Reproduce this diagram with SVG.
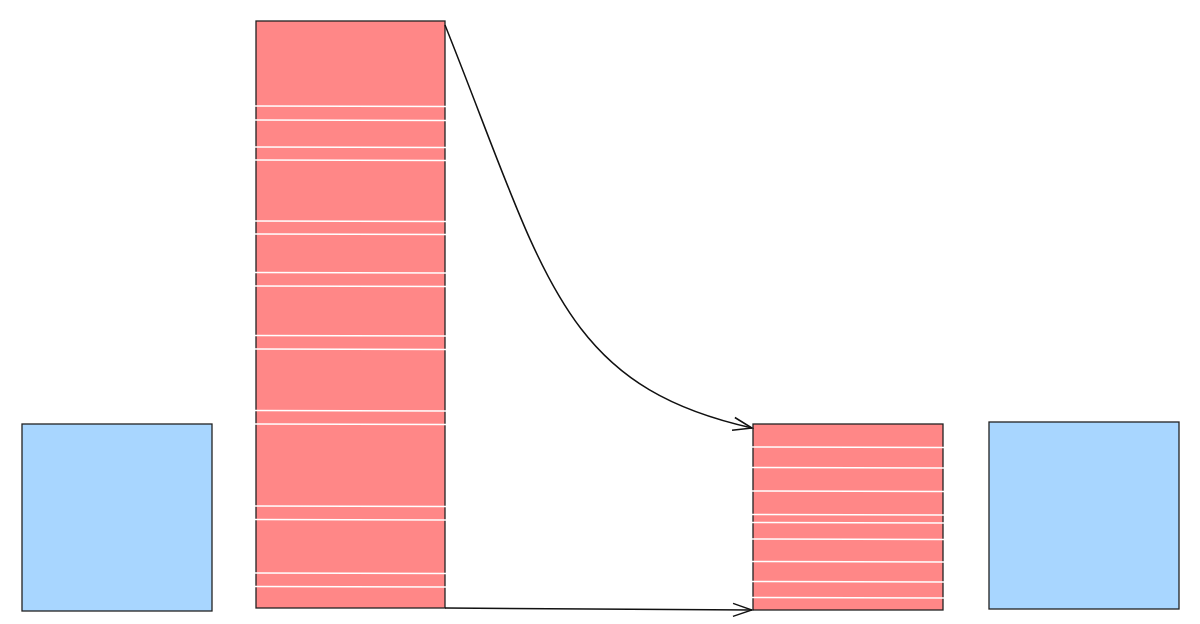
<svg xmlns="http://www.w3.org/2000/svg" width="1200" height="624" viewBox="0 0 1200 624">
<style>
.blue{fill:#a8d6ff;stroke:#222;stroke-width:1.3}
.red{fill:#ff8787;stroke:#222;stroke-width:1.3}
.sep{stroke:#ffffff;stroke-width:1.6}
.conn{fill:none;stroke:#111;stroke-width:1.5}
</style>
<defs>
<marker id="arr" markerWidth="24" markerHeight="16" refX="22" refY="8" orient="auto" markerUnits="userSpaceOnUse">
<path d="M3,1.5 L22,8 L3,14.5" fill="none" stroke="#111" stroke-width="1.5"/>
</marker>
</defs>
<rect width="1200" height="624" fill="#fff"/>
<g id="blue-left"><rect class="blue" x="22" y="424" width="190" height="187"/></g>
<g id="red-big">
<rect class="red" x="256" y="21" width="189" height="587"/>
<g class="sep">
<line x1="255" y1="106" x2="446" y2="106.5"/><line x1="255" y1="120" x2="446" y2="120.5"/>
<line x1="255" y1="147" x2="446" y2="147.5"/><line x1="255" y1="160" x2="446" y2="160.5"/>
<line x1="255" y1="221" x2="446" y2="221.5"/><line x1="255" y1="234" x2="446" y2="234.5"/>
<line x1="255" y1="272.5" x2="446" y2="273"/><line x1="255" y1="286" x2="446" y2="286.5"/>
<line x1="255" y1="335.5" x2="446" y2="336"/><line x1="255" y1="349" x2="446" y2="349.5"/>
<line x1="255" y1="410.5" x2="446" y2="411"/><line x1="255" y1="424" x2="446" y2="424.5"/>
<line x1="255" y1="506" x2="446" y2="506.5"/><line x1="255" y1="519.5" x2="446" y2="520"/>
<line x1="255" y1="573" x2="446" y2="573.5"/><line x1="255" y1="586.5" x2="446" y2="587"/>
</g>
</g>
<g id="red-small">
<rect class="red" x="753" y="424" width="190" height="186"/>
<g class="sep">
<line x1="752" y1="447" x2="944" y2="447.5"/><line x1="752" y1="467.5" x2="944" y2="468"/>
<line x1="752" y1="491" x2="944" y2="491.5"/><line x1="752" y1="514.5" x2="944" y2="515"/>
<line x1="752" y1="522.5" x2="944" y2="523"/><line x1="752" y1="539" x2="944" y2="539.5"/>
<line x1="752" y1="561.5" x2="944" y2="562"/><line x1="752" y1="581.5" x2="944" y2="582"/>
<line x1="752" y1="597.5" x2="944" y2="598"/>
</g>
</g>
<g id="blue-right"><rect class="blue" x="989" y="422" width="190" height="187"/></g>
<g id="connectors">
<path class="conn" d="M445,25 C545,275 560,385 752,428" marker-end="url(#arr)"/>
<path class="conn" d="M445,608 L752,610" marker-end="url(#arr)"/>
</g>
</svg>
